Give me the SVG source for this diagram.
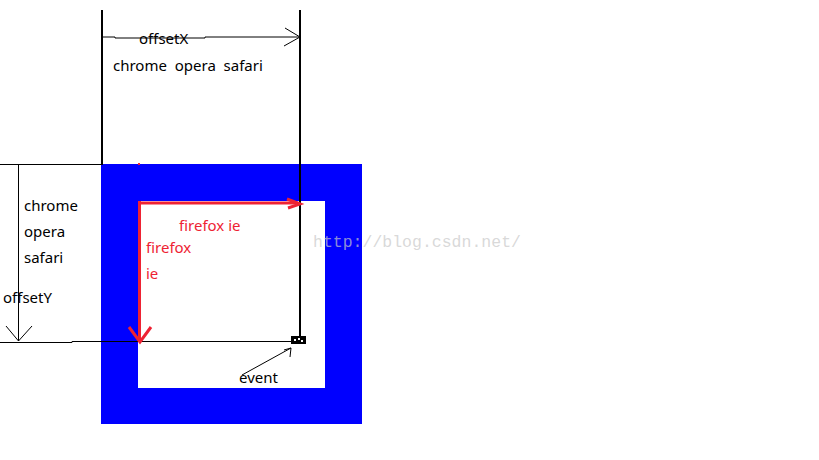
<svg xmlns="http://www.w3.org/2000/svg" width="819" height="460" viewBox="0 0 819 460">
<defs>
<style>
.t{font-family:"Noto Sans","Open Sans",sans-serif;font-size:15px;fill:#000}
.r{font-family:"Noto Sans","Open Sans",sans-serif;font-size:15px;fill:#ee2233}
.blk{stroke:#000;fill:none}
.red{stroke:#ee2233;fill:none;stroke-width:3}
.wm{font-family:"Liberation Mono",monospace;font-size:16.5px;fill:#c8c8c8;fill-opacity:0.7}
</style>
</defs>
<rect width="819" height="460" fill="#fff"/>
<g id="box">
<path d="M101 164H362V424H101Z M138 201V388H325V201Z" fill="#0000ff" fill-rule="evenodd"/>
</g>
<g id="connectors">
<line class="blk" x1="102" y1="10" x2="102" y2="165" stroke-width="2"/>
<line class="blk" x1="300" y1="10" x2="300" y2="338" stroke-width="2"/>
<polyline class="blk" points="102,37 115,37 115,38 205,38 205,37 300,37" stroke-width="1"/>
<polyline class="blk" points="285,28 300,37 284,46" stroke-width="1"/>
<line class="blk" x1="0" y1="164.5" x2="102" y2="164.5" stroke-width="1"/>
<line class="blk" x1="18.5" y1="164" x2="18.5" y2="341" stroke-width="1"/>
<polyline class="blk" points="6,326 18.5,341 32,326" stroke-width="1"/>
<polyline class="blk" points="0,342.5 72,342.5 72,341.5 300,341.5" stroke-width="1"/>
<line class="red" x1="139.5" y1="201" x2="139.5" y2="340"/>
<polyline class="red" points="129,327 140,342 151,327"/>
<line class="red" x1="138" y1="203" x2="298" y2="203"/>
<polyline class="red" points="287,199 300,204 288,208"/>
<rect x="138" y="163" width="2" height="2" fill="#ee2233"/>
<line class="blk" x1="242" y1="375" x2="291" y2="348" stroke-width="1"/>
<polyline class="blk" points="284,350 291,348 290,357" stroke-width="1"/>
</g>
<g id="event-point">
<rect x="291" y="336" width="15" height="8" fill="#000"/>
<rect x="294" y="339" width="2" height="2" fill="#fff"/>
<rect x="298" y="338" width="2" height="2" fill="#fff"/>
<rect x="301" y="340" width="2" height="2" fill="#fff"/>
</g>
<g id="labels">
<text class="t" x="139" y="44">offsetX</text>
<text class="t" x="113" y="71" xml:space="preserve">chrome  opera  safari</text>
<text class="t" x="24" y="211">chrome</text>
<text class="t" x="24" y="237">opera</text>
<text class="t" x="24" y="263">safari</text>
<text class="t" x="3" y="303">offsetY</text>
<text class="r" x="179" y="231">firefox ie</text>
<text class="r" x="146" y="253">firefox</text>
<text class="r" x="146" y="279">ie</text>
<text class="t" x="239" y="383">event</text>
</g>
<text class="wm" x="313" y="247">http://blog.csdn.net/</text>
</svg>
